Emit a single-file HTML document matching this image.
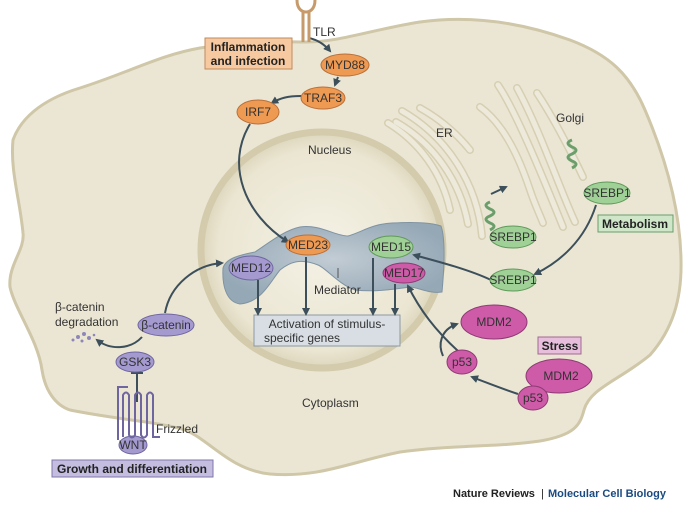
<!DOCTYPE html>
<html><head><meta charset="utf-8"><style>
html,body{margin:0;padding:0;background:#fff;}
svg{display:block;}
text{font-family:"Liberation Sans",sans-serif;}
</style></head><body>
<svg width="685" height="505" viewBox="0 0 685 505" xmlns="http://www.w3.org/2000/svg">
<defs>
<marker id="ar" markerWidth="8" markerHeight="8" refX="6" refY="4" orient="auto" markerUnits="userSpaceOnUse"><path d="M0,0 L8,4 L0,8 Z" fill="#3c4f5a"/></marker>
<radialGradient id="nuc" cx="50%" cy="50%" r="50%"><stop offset="0" stop-color="#f4f1e6"/><stop offset="0.85" stop-color="#ebe6d2"/><stop offset="1" stop-color="#ddd6bd"/></radialGradient>
<radialGradient id="med" cx="50%" cy="45%" r="55%"><stop offset="0" stop-color="#c2ccd4"/><stop offset="1" stop-color="#95a8b6"/></radialGradient>
</defs>
<!-- cell -->
<path d="M13,140 C20,120 40,100 80,88 C130,72 160,55 200,48 C250,40 280,42 306,42 C340,42 370,30 420,22 C470,15 520,22 570,40 C610,55 630,75 645,110 C660,145 680,200 681,260 C682,300 672,330 650,355 C620,380 590,388 584,410 C580,425 575,435 540,441 C500,447 450,445 400,452 C350,462 320,478 270,474 C230,470 210,440 185,430 C160,422 120,420 70,410 C55,405 45,390 42,370 C38,340 15,310 10,287 C8,265 25,250 23,233 C20,200 10,170 13,140 Z" fill="#ebe6d4" stroke="#cfc7a8" stroke-width="3"/>
<!-- nucleus -->
<ellipse cx="322" cy="250" rx="121" ry="118" fill="url(#nuc)" stroke="#d3cbab" stroke-width="7"/>
<!-- ER arcs -->
<g fill="none" stroke="#d6cfb2" stroke-width="8" stroke-linecap="round">
<path d="M388,123 A135,135 0 0 1 450,210"/>
<path d="M396,122 A148,148 0 0 1 468,224"/>
<path d="M402,111 A161,161 0 0 1 482,236"/>
<path d="M420,108 A172,172 0 0 1 470,150"/>
</g>
<g fill="none" stroke="#eeeadb" stroke-width="5" stroke-linecap="round">
<path d="M388,123 A135,135 0 0 1 450,210"/>
<path d="M396,122 A148,148 0 0 1 468,224"/>
<path d="M402,111 A161,161 0 0 1 482,236"/>
<path d="M420,108 A172,172 0 0 1 470,150"/>
</g>
<!-- Golgi -->
<g fill="none" stroke="#d6cfb2" stroke-width="8" stroke-linecap="round">
<path d="M480,107 C505,125 520,160 530,190 C535,205 540,215 543,223"/>
<path d="M498,85 C515,110 540,170 563,227"/>
<path d="M517,88 C540,130 560,190 575,222"/>
<path d="M537,93 C555,120 575,160 583,177"/>
</g>
<g fill="none" stroke="#eeeadb" stroke-width="5" stroke-linecap="round">
<path d="M480,107 C505,125 520,160 530,190 C535,205 540,215 543,223"/>
<path d="M498,85 C515,110 540,170 563,227"/>
<path d="M517,88 C540,130 560,190 575,222"/>
<path d="M537,93 C555,120 575,160 583,177"/>
</g>
<path d="M490,230 q8,-4 0,-7 q-8,-4 0,-7 q8,-4 0,-7 q-8,-4 0,-7" fill="none" stroke="#6a9e6a" stroke-width="3"/>
<path d="M572,168 q8,-4 0,-7 q-8,-4 0,-7 q8,-4 0,-7 q-8,-4 0,-7" fill="none" stroke="#6a9e6a" stroke-width="3"/>
<text x="436" y="137" font-size="12" fill="#333">ER</text>
<text x="556" y="122" font-size="12" fill="#333">Golgi</text>
<text x="308" y="154" font-size="12" fill="#333">Nucleus</text>
<text x="302" y="407" font-size="12" fill="#333">Cytoplasm</text>
<!-- mediator -->
<path d="M223,268 C226,258 240,255 255,252 C270,242 285,230 300,227 C320,224 335,236 348,236 C362,232 372,224 392,223 C410,222 430,222 441,226 C446,240 444,270 442,292 C430,294 420,288 410,287 C390,290 372,292 355,290 C338,284 326,268 318,265 C300,258 290,262 280,270 C270,282 262,302 240,304 C226,302 222,285 223,268 Z" fill="url(#med)" stroke="#7f93a2"/>
<line x1="338" y1="278" x2="338" y2="268" stroke="#555"/>
<text x="314" y="294" font-size="12" fill="#333">Mediator</text>
<rect x="254" y="315" width="146" height="31" fill="#d8dee3" stroke="#8b99a4"/>
<text x="327" y="328" font-size="12" text-anchor="middle" fill="#333">Activation of stimulus-</text>
<text x="302" y="342" font-size="12" text-anchor="middle" fill="#333">specific genes</text>
<!-- arrows -->
<g stroke="#3c4f5a" stroke-width="2" marker-end="url(#ar)" fill="none">
<line x1="258" y1="280" x2="258" y2="314"/>
<line x1="306" y1="257" x2="306" y2="314"/>
<line x1="373" y1="258" x2="373" y2="314"/>
<line x1="395" y1="284" x2="395" y2="314"/>
<path d="M309,38 C318,40 325,45 330,51"/>
<line x1="338" y1="77" x2="335" y2="85"/>
<path d="M301,96 C288,96 280,98 272,103"/>
<path d="M250,124 C225,165 245,215 288,242"/>
<path d="M165,313 C170,285 195,265 222,263"/>
<path d="M142,337 C130,350 110,350 97,340"/>
<path d="M596,205 C585,240 560,262 535,274"/>
<path d="M491,280 C470,270 440,262 414,255"/>
<path d="M458,351 C435,330 420,310 408,286"/>
<path d="M443,356 C438,345 440,330 457,324"/>
<path d="M518,394 C500,388 485,382 472,377"/>
<line x1="491" y1="194" x2="506" y2="187"/>
</g>
<line x1="137" y1="402" x2="137" y2="373" stroke="#3c4f5a" stroke-width="2"/>
<line x1="131" y1="373" x2="143" y2="373" stroke="#3c4f5a" stroke-width="2"/>
<!-- TLR -->
<path d="M297,0 C297,10 303,12 306,12 C309,12 315,10 315,0" fill="none" stroke="#c79a6c" stroke-width="3"/>
<path d="M303,12 L303,42 M309,12 L309,42" stroke="#c79a6c" stroke-width="3"/>
<text x="313" y="36" font-size="12" fill="#333">TLR</text>
<rect x="205" y="38" width="87" height="31" fill="#f6c9a0" stroke="#c08a5c"/>
<text x="248" y="51" font-size="12" font-weight="bold" text-anchor="middle" fill="#222">Inflammation</text>
<text x="248" y="65" font-size="12" font-weight="bold" text-anchor="middle" fill="#222">and infection</text>
<g fill="#ef9a53" stroke="#b9703a">
<ellipse cx="345" cy="65" rx="24" ry="11"/>
<ellipse cx="323" cy="98" rx="22" ry="11"/>
<ellipse cx="258" cy="112" rx="21" ry="12"/>
<ellipse cx="308" cy="245" rx="22" ry="10"/>
</g>
<g font-size="12" text-anchor="middle" fill="#333">
<text x="345" y="69">MYD88</text>
<text x="323" y="102">TRAF3</text>
<text x="258" y="116">IRF7</text>
<text x="308" y="249">MED23</text>
</g>
<g fill="#9fd096" stroke="#5f9a5a">
<ellipse cx="391" cy="247" rx="22" ry="11"/>
<ellipse cx="513" cy="237" rx="23" ry="11"/>
<ellipse cx="607" cy="193" rx="23" ry="11"/>
<ellipse cx="513" cy="280" rx="23" ry="11"/>
</g>
<g font-size="12" text-anchor="middle" fill="#333">
<text x="391" y="251">MED15</text>
<text x="513" y="241">SREBP1</text>
<text x="607" y="197">SREBP1</text>
<text x="513" y="284">SREBP1</text>
</g>
<rect x="598" y="215" width="75" height="17" fill="#cfe6c9" stroke="#6a9e6a"/>
<text x="635" y="228" font-size="12" font-weight="bold" text-anchor="middle" fill="#222">Metabolism</text>
<g fill="#a59ad0" stroke="#6f66a0">
<ellipse cx="251" cy="268" rx="22" ry="12"/>
<ellipse cx="166" cy="325" rx="28" ry="11"/>
<ellipse cx="135" cy="362" rx="19" ry="10"/>
<ellipse cx="133" cy="445" rx="14" ry="9"/>
</g>
<g font-size="12" text-anchor="middle" fill="#333">
<text x="251" y="272">MED12</text>
<text x="166" y="329">β-catenin</text>
<text x="135" y="366">GSK3</text>
<text x="133" y="449">WNT</text>
</g>
<text x="55" y="311" font-size="12" fill="#333">β-catenin</text>
<text x="55" y="326" font-size="12" fill="#333">degradation</text>
<g fill="#8f86b8"><circle cx="78" cy="337" r="2"/><circle cx="84" cy="334" r="2"/><circle cx="89" cy="338" r="2"/><circle cx="82" cy="341" r="1.5"/><circle cx="73" cy="340" r="1.5"/><circle cx="94" cy="335" r="1.3"/></g>
<path d="M118,440 L118,387 L128,387 M123,437 L123,395 Q126,390 129,395 L129,435 Q132,440 135,435 L135,395 Q138,390 141,395 L141,435 Q144,440 147,435 L147,395 Q150,390 153,395 L153,437 L160,437" fill="none" stroke="#6f66a0" stroke-width="2"/>
<text x="156" y="433" font-size="12" fill="#333">Frizzled</text>
<rect x="52" y="460" width="161" height="17" fill="#c4bde0" stroke="#7f77aa"/>
<text x="132" y="473" font-size="12" font-weight="bold" text-anchor="middle" fill="#222">Growth and differentiation</text>
<g fill="#cd5ba8" stroke="#8e3a74">
<ellipse cx="404" cy="273" rx="21" ry="10"/>
<ellipse cx="494" cy="322" rx="33" ry="17"/>
<ellipse cx="559" cy="376" rx="33" ry="17"/>
<ellipse cx="462" cy="362" rx="15" ry="12"/>
<ellipse cx="533" cy="398" rx="15" ry="12"/>
</g>
<g font-size="12" text-anchor="middle" fill="#333">
<text x="404" y="277">MED17</text>
<text x="494" y="326">MDM2</text>
<text x="561" y="380">MDM2</text>
<text x="462" y="366">p53</text>
<text x="533" y="402">p53</text>
</g>
<rect x="538" y="337" width="43" height="17" fill="#e7bfdc" stroke="#a0688f"/>
<text x="560" y="350" font-size="12" font-weight="bold" text-anchor="middle" fill="#222">Stress</text>
<text x="453" y="497" font-size="11" font-weight="bold" fill="#222">Nature Reviews</text>
<text x="541" y="497" font-size="11" fill="#222">|</text>
<text x="548" y="497" font-size="11" font-weight="bold" fill="#1a4a80">Molecular Cell Biology</text>
</svg>
</body></html>
